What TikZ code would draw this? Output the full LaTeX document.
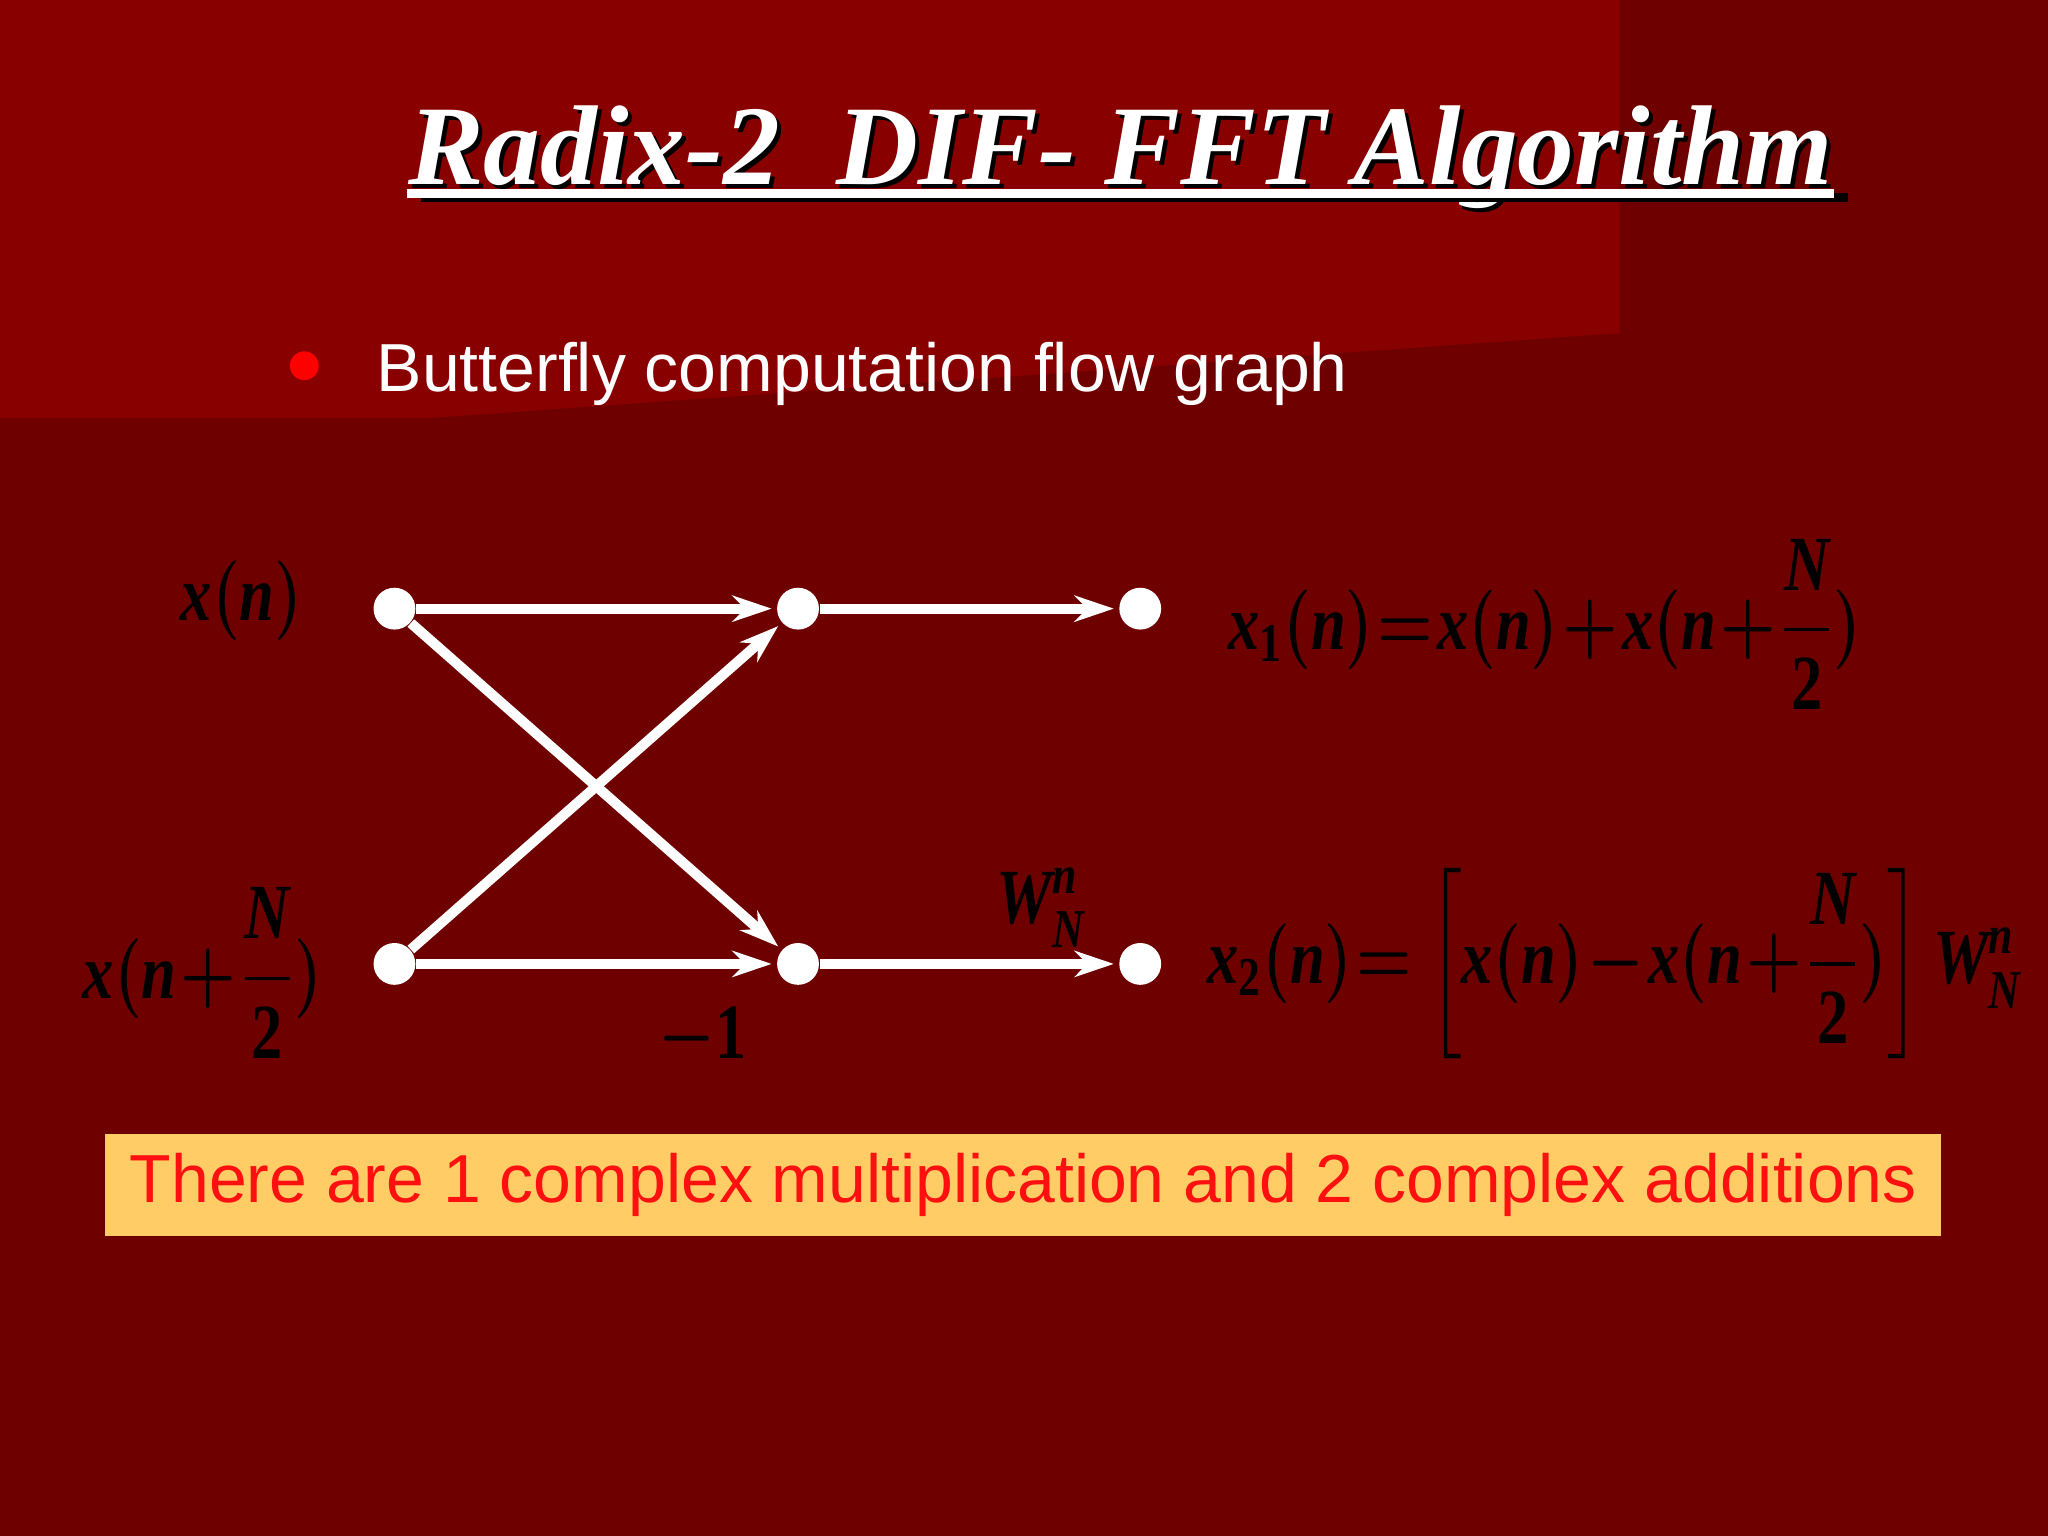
\documentclass[tikz,border=0pt]{standalone}
\usepackage{amsmath}
\usepackage{graphicx}
\usepackage{fontspec}
\setmainfont{Liberation Serif}
\newfontfamily\arialf{Liberation Sans}
\usetikzlibrary{arrows.meta}
\definecolor{bgred}{HTML}{6E0000}
\definecolor{bandred}{HTML}{880000}
\definecolor{boxy}{HTML}{FFCC66}
\definecolor{txtred}{HTML}{FF1010}
\newcommand\mv[1]{\text{\bfseries\itshape #1}}
\newcommand\mb[1]{\text{\bfseries #1}}
\newcommand\op[1]{\mskip1mu{#1}\mskip1mu}
\newcommand\cz[1]{\scalebox{0.8}[1]{#1}}
\begin{document}
\begin{tikzpicture}[x=0.01cm,y=-0.01cm,
  dotn/.style={circle,fill=white,inner sep=0pt,minimum size=0.32cm},
  flow/.style={white,line width=2.2pt,-{Stealth[length=0.3cm,width=0.2cm]},shorten >=1pt},
  lab/.style={text=black,font=\fontsize{17}{20}\selectfont\boldmath}]
\fill[bgred] (0,0) rectangle (1568,1176);
\fill[bandred] (0,0) -- (1240,0) -- (1240,255) -- (330,320) -- (40,320) -- (0,320) -- cycle;
\useasboundingbox (0,0) rectangle (1568,1176);
% title
\node[anchor=base,inner sep=0pt] (tshadow) at (861,144) {\fontsize{24.7}{30}\selectfont\bfseries\itshape\color{black}Radix-2\ \ DIF- FFT Algorithm};
\node[anchor=base,inner sep=0pt] (title) at (858,141) {\fontsize{24.7}{30}\selectfont\bfseries\itshape\color{white}Radix-2\ \ DIF- FFT Algorithm};
\draw[black,line width=2pt] ([xshift=3pt,yshift=-0.1cm]title.base west) -- ([xshift=3pt,yshift=-0.1cm]title.base east);
\draw[white,line width=2pt] ([yshift=-0.07cm]title.base west) -- ([yshift=-0.07cm]title.base east);
\fill[red] (233,280) circle (0.11cm);
\node[anchor=west,text=white,font=\arialf\fontsize{14.8}{18}\selectfont] (bul) at (276,286) {Butterfly computation flow graph};
% nodes
\node[dotn] (a) at (302,466) {};
\node[dotn] (b) at (611,466) {};
\node[dotn] (c) at (873,466) {};
\node[dotn] (d) at (302,738) {};
\node[dotn] (e) at (611,738) {};
\node[dotn] (f) at (873,738) {};
\draw[flow] (a) -- (b);
\draw[flow] (b) -- (c);
\draw[flow] (d) -- (e);
\draw[flow] (e) -- (f);
\draw[flow] (a) -- (e);
\draw[flow] (d) -- (b);
% labels
\node[lab] (lx) at (185,460) {\cz{$\mv{x}(\mv{n})$}};
\node[lab] (lxn) at (155,745) {\cz{$\mv{x}(\mv{n}\op{+}\dfrac{\mv{N}}{\mb{2}})$}};
\node[lab] (lm1) at (538,795) {\cz{$-\mb{1}$}};
\node[lab] (lw) at (797,695) {\cz{$\mv{W}_{\mv{N}}^{\mv{n}}$}};
\node[lab,anchor=west] (eq1) at (928,478) {\cz{$\mv{x}_{\mb{1}}(\mv{n})\op{=}\mv{x}(\mv{n})\op{+}\mv{x}(\mv{n}\op{+}\dfrac{\mv{N}}{\mb{2}})$}};
\node[lab,anchor=west] (eq2) at (912,738) {\cz{$\mv{x}_{\mb{2}}(\mv{n})\op{=}\left[\mv{x}(\mv{n})\op{-}\mv{x}(\mv{n}\op{+}\dfrac{\mv{N}}{\mb{2}})\right]\mv{W}_{\mv{N}}^{\mv{n}}$}};
% box
\node[fill=boxy,minimum width=14.05cm,minimum height=0.78cm,inner sep=0pt,text=txtred,font=\arialf\fontsize{14.8}{18}\selectfont] (box) at (783.5,907) {There are 1 complex multiplication and 2 complex additions};
\end{tikzpicture}
\end{document}
